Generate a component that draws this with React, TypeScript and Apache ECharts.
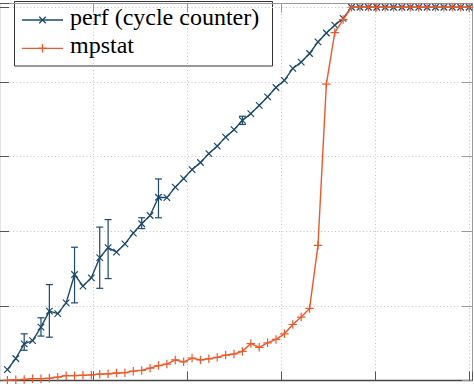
import React, { useEffect, useRef } from "react";
import * as echarts from "echarts";

// x positions of the measurement points (load steps)
const steps = [
  1, 2, 3, 4, 5, 6, 7, 8, 9, 10, 11, 12, 13, 14, 15, 16, 17, 18, 19, 20,
  21, 22, 23, 24, 25, 26, 27, 28, 29, 30, 31, 32, 33, 34, 35, 36, 37, 38, 39, 40,
  41, 42, 43, 44, 45, 46, 47, 48, 49, 50, 51, 52, 53, 54, 55, 56,
];

const perfValues = [
  2.9, 5.9, 9.8, 10.7, 14.3, 18.6, 17.9, 20.8, 28.4, 25.3, 27.5, 32.9, 35.6, 34.4,
  36.6, 39.5, 42.0, 44.2, 49.1, 49.0, 51.8, 54.1, 56.5, 58.4, 60.8, 62.8, 65.2,
  67.2, 69.7, 71.5, 73.7, 76.0, 78.5, 80.4, 83.6, 85.3, 87.6, 90.7, 93.1, 95.2,
  97.0, 100, 100, 100, 100, 100, 100, 100, 100, 100, 100, 100, 100, 100, 100, 100,
];

const mpstatValues = [
  0.1, 0.2, 0.3, 0.5, 0.5, 0.6, 0.9, 1.3, 1.3, 1.4, 1.5, 1.7, 1.8, 2.0, 2.1, 2.5,
  2.7, 3.3, 4.0, 4.4, 5.5, 5.0, 6.0, 5.5, 5.8, 6.2, 6.8, 7.1, 7.8, 9.9, 8.9, 10.1,
  11.0, 12.5, 15.0, 17.0, 19.3, 36.2, 79.4, 93.2, 96.7, 100, 100, 100, 100, 100,
  100, 100, 100, 100, 100, 100, 100, 100, 100, 100,
];

// error bars of perf: [step, low, high]
const perfErrStep = [3, 5, 6, 9, 12, 13, 17, 19, 29];
const perfErrLow = [8.1, 11.9, 11.6, 20.8, 24.7, 27.3, 40.7, 43.6, 68.6];
const perfErrHigh = [12.5, 16.8, 25.7, 35.7, 41.1, 43.1, 43.6, 54.0, 70.8];

const seriesNames = ["perf (cycle counter)", "mpstat"];

const BLUE = "#1b4a6b";
const ORANGE = "#f0582a";
const SERIF = "serif";

export default function App() {
  const ref = useRef<HTMLDivElement>(null);
  useEffect(() => {
    if (!ref.current) return;
    const chart = echarts.init(ref.current, undefined, { renderer: "svg" });
    const xMax = 56.35;
    const yMax = 101;
    const off = 40; // container is shifted 40px to the left
    const gridLine = { show: true, lineStyle: { color: "#c4c4c4", width: 1, type: [1, 2.5] } };

    // legend drawn with graphic elements
    const lgX = off + 14.5;
    const row1 = 20;
    const row2 = 48.3;
    const lineX1 = off + 22;
    const lineX2 = off + 63;
    const mX = off + 42.5;
    const textX = off + 70;
    const sBlue = { stroke: BLUE, lineWidth: 1.3, fill: "none" };
    const sOrange = { stroke: ORANGE, lineWidth: 1.3, fill: "none" };
    const cr = 3.3;
    const pr = 4.2;
    const legendShapes = {
      type: "group",
      z: 100,
      children: [
        {
          type: "rect",
          shape: { x: lgX, y: 1.5, width: 258, height: 64.5 },
          style: { fill: "#fff", stroke: "#333", lineWidth: 1 },
        },
        { type: "line", shape: { x1: lineX1, y1: row1, x2: lineX2, y2: row1 }, style: sBlue },
        { type: "line", shape: { x1: mX - cr, y1: row1 - cr, x2: mX + cr, y2: row1 + cr }, style: sBlue },
        { type: "line", shape: { x1: mX - cr, y1: row1 + cr, x2: mX + cr, y2: row1 - cr }, style: sBlue },
        { type: "line", shape: { x1: lineX1, y1: row2, x2: lineX2, y2: row2 }, style: sOrange },
        { type: "line", shape: { x1: mX - pr, y1: row2, x2: mX + pr, y2: row2 }, style: sOrange },
        { type: "line", shape: { x1: mX, y1: row2 - pr, x2: mX, y2: row2 + pr }, style: sOrange },
      ],
    };
    const legendText1 = {
      type: "text",
      z: 101,
      left: textX,
      top: 4.5,
      style: { text: seriesNames[0], fontFamily: SERIF, fontSize: 24 },
    };
    const legendText2 = {
      type: "text",
      z: 101,
      left: textX,
      top: 32.8,
      style: { text: seriesNames[1], fontFamily: SERIF, fontSize: 24 },
    };

    const option: any = {
      animation: false,
      textStyle: { fontFamily: SERIF },
      grid: { left: 39, right: 2, top: 3.5, bottom: 3.5, containLabel: false },
      xAxis: [
        {
          type: "value", min: 0, max: xMax, interval: 11.2, position: "bottom",
          axisLine: { show: true, onZero: false, lineStyle: { color: "#444", width: 1.3 } },
          axisTick: { show: true, inside: true, length: 9, lineStyle: { color: "#555" } },
          axisLabel: { show: false },
          splitLine: gridLine,
        },
        {
          type: "value", min: 0, max: xMax, interval: 11.2, position: "top",
          axisLine: { show: true, onZero: false, lineStyle: { color: "#999", width: 1 } },
          axisTick: { show: true, inside: true, length: 9, lineStyle: { color: "#999" } },
          axisLabel: { show: false },
          splitLine: { show: false },
        },
      ],
      yAxis: [
        {
          type: "value", min: 0, max: yMax, interval: 20, position: "left",
          axisLine: { show: true, onZero: false, lineStyle: { color: "#444", width: 1.3 } },
          axisTick: { show: true, inside: true, length: 10, lineStyle: { color: "#555" } },
          axisLabel: { show: false },
          splitLine: gridLine,
        },
        {
          type: "value", min: 0, max: yMax, interval: 20, position: "right",
          axisLine: { show: true, onZero: false, lineStyle: { color: "#999", width: 1 } },
          axisTick: { show: true, inside: true, length: 10, lineStyle: { color: "#999" } },
          axisLabel: { show: false },
          splitLine: { show: false },
        },
      ],
      graphic: [legendShapes, legendText1, legendText2],
      series: [
        {
          type: "custom",
          name: "perf-err",
          xAxisIndex: 0,
          yAxisIndex: 0,
          silent: true,
          encode: { x: 0, y: [1, 2] },
          data: perfErrStep.map((s, i) => [s, perfErrLow[i], perfErrHigh[i]]),
          renderItem: (params: any, api: any) => {
            const lo = api.coord([api.value(0), api.value(1)]);
            const hi = api.coord([api.value(0), api.value(2)]);
            const w = 3.5;
            const style = { stroke: BLUE, lineWidth: 1.2, fill: "none" };
            return {
              type: "group",
              children: [
                { type: "line", shape: { x1: lo[0], y1: lo[1], x2: hi[0], y2: hi[1] }, style },
                { type: "line", shape: { x1: lo[0] - w, y1: lo[1], x2: lo[0] + w, y2: lo[1] }, style },
                { type: "line", shape: { x1: hi[0] - w, y1: hi[1], x2: hi[0] + w, y2: hi[1] }, style },
              ],
            };
          },
          z: 2,
        },
        {
          type: "line",
          name: seriesNames[0],
          data: steps.map((s, i) => [s, perfValues[i]]),
          symbol: "path://M0,0L10,10M10,0L0,10",
          symbolSize: 6.5,
          showAllSymbol: true,
          lineStyle: { color: BLUE, width: 1.4 },
          itemStyle: { color: BLUE, borderColor: BLUE, borderWidth: 1.2 },
          z: 3,
        },
        {
          type: "line",
          name: seriesNames[1],
          data: steps.map((s, i) => [s, mpstatValues[i]]),
          symbol: "path://M5,0L5,10M0,5L10,5",
          symbolSize: 8.5,
          showAllSymbol: true,
          lineStyle: { color: ORANGE, width: 1.4 },
          itemStyle: { color: ORANGE, borderColor: ORANGE, borderWidth: 1.2 },
          z: 4,
        },
      ],
    };
    chart.setOption(option);
    return () => chart.dispose();
  }, []);
  return (
    <div
      ref={ref}
      style={{ position: "fixed", left: -40, top: 0, width: 514, height: 384, background: "#fff" }}
    />
  );
}
